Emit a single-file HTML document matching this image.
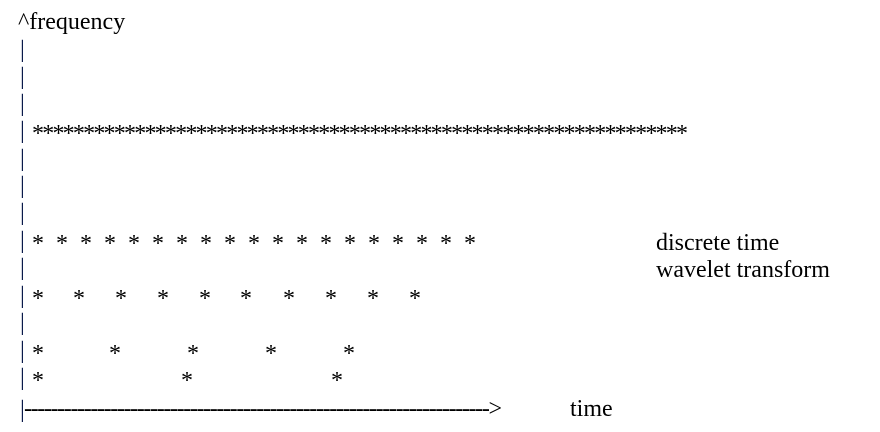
<!DOCTYPE html>
<html><head><meta charset="utf-8"><style>
html,body{margin:0;padding:0;background:#fff;}
svg{display:block;}
text{font-family:"Liberation Serif",serif;font-size:24px;fill:#000;}
.b{fill:#0a1a4a;}
</style></head><body>
<svg width="880" height="432" viewBox="0 0 880 432" xmlns="http://www.w3.org/2000/svg">
<text x="18" y="29">^frequency</text>
<g class="b">
<text class="b" x="20" y="57">|</text>
<text class="b" x="20" y="84">|</text>
<text class="b" x="20" y="111">|</text>
<text class="b" x="20" y="138">|</text>
<text class="b" x="20" y="166">|</text>
<text class="b" x="20" y="193">|</text>
<text class="b" x="20" y="220">|</text>
<text class="b" x="20" y="248">|</text>
<text class="b" x="20" y="275">|</text>
<text class="b" x="20" y="303">|</text>
<text class="b" x="20" y="330">|</text>
<text class="b" x="20" y="358">|</text>
<text class="b" x="20" y="385">|</text>
<text class="b" x="20" y="417">|</text>
</g>
<text x="32" y="141" textLength="656" lengthAdjust="spacing">****************************************************************</text>
<g>
<text x="32" y="251">*</text><text x="56" y="251">*</text><text x="80" y="251">*</text><text x="104" y="251">*</text><text x="128" y="251">*</text><text x="152" y="251">*</text><text x="176" y="251">*</text><text x="200" y="251">*</text><text x="224" y="251">*</text><text x="248" y="251">*</text><text x="272" y="251">*</text><text x="296" y="251">*</text><text x="320" y="251">*</text><text x="344" y="251">*</text><text x="368" y="251">*</text><text x="392" y="251">*</text><text x="416" y="251">*</text><text x="440" y="251">*</text><text x="464" y="251">*</text>
</g>
<g>
<text x="32" y="306">*</text><text x="73" y="306">*</text><text x="115" y="306">*</text><text x="157" y="306">*</text><text x="199" y="306">*</text><text x="240" y="306">*</text><text x="283" y="306">*</text><text x="325" y="306">*</text><text x="367" y="306">*</text><text x="409" y="306">*</text>
</g>
<g>
<text x="32" y="361">*</text><text x="109" y="361">*</text><text x="187" y="361">*</text><text x="265" y="361">*</text><text x="343" y="361">*</text>
</g>
<g>
<text x="32" y="388">*</text><text x="181" y="388">*</text><text x="331" y="388">*</text>
</g>
<text x="24" y="416" textLength="478" lengthAdjust="spacing">----------------------------------------------------------------------&gt;</text>
<text x="570" y="416">time</text>
<text x="656" y="250">discrete time</text>
<text x="656" y="277">wavelet transform</text>
</svg>
</body></html>
